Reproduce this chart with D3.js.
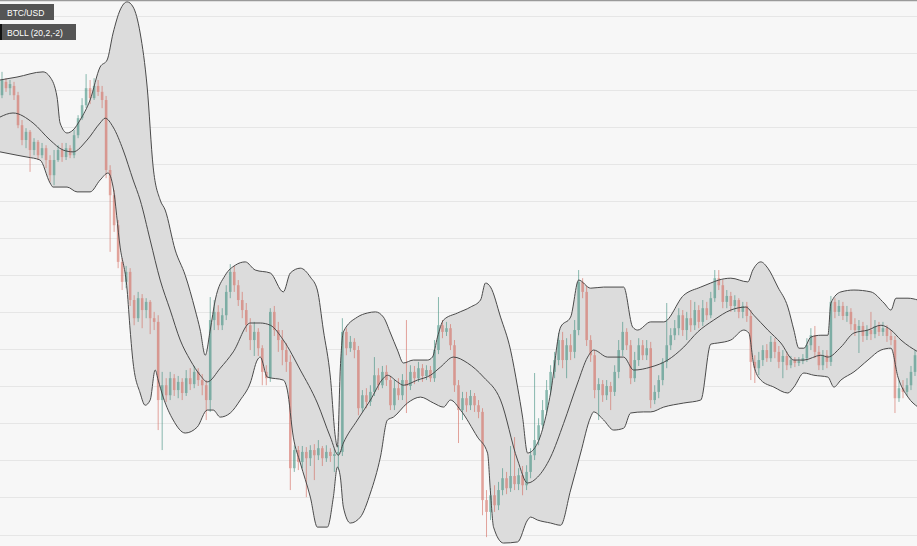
<!DOCTYPE html>
<html>
<head>
<meta charset="utf-8">
<script src="https://cdn.jsdelivr.net/npm/d3@7/dist/d3.min.js"></script>
<style>
  html, body { margin: 0; padding: 0; background: #f7f7f7; }
  svg { display: block; }
</style>
</head>
<body>
<svg id="chart" width="917" height="546"></svg>
<script>
// BTC/USD candles, one per slot, left to right
var opens = [
  7186,7222,7205,7211,7186,7105,7065,7087,7038,7060,
  7024,7043,7011,6970,7011,7038,7019,7043,7024,7078,
  7124,7159,7205,7178,7211,7195,7173,6984,6916,6835,
  6736,6682,6709,6633,6584,6638,6606,6628,6584,6574,
  6363,6403,6376,6422,6390,6412,6382,6422,6406,6439,
  6417,6403,6363,6579,6601,6565,6592,6655,6709,6673,
  6633,6606,6565,6525,6547,6503,6439,6422,6601,6552,
  6525,6498,6466,6179,6228,6196,6223,6206,6228,6214,
  6233,6206,6223,6212,6217,6223,6547,6503,6520,6498,
  6341,6376,6358,6385,6430,6403,6439,6417,6349,6395,
  6376,6417,6401,6439,6422,6449,6428,6444,6422,6498,
  6565,6547,6557,6511,6403,6336,6368,6349,6374,6349,
  6331,6093,6061,6106,6079,6120,6152,6125,6158,6136,
  6160,6133,6169,6214,6255,6295,6336,6390,6439,6471,
  6525,6471,6511,6493,6552,6682,6655,6525,6484,6390,
  6406,6376,6401,6385,6439,6498,6547,6511,6422,6471,
  6511,6484,6503,6363,6385,6417,6466,6511,6538,6557,
  6592,6552,6584,6565,6606,6574,6611,6592,6638,6692,
  6673,6628,6644,6617,6633,6601,6617,6590,6466,6449,
  6471,6498,6476,6520,6493,6466,6482,6457,6471,6463,
  6468,6476,6511,6538,6493,6457,6484,6466,6628,6601,
  6617,6590,6601,6568,6552,6563,6536,6552,6541,6563,
  6547,6557,6536,6525,6368,6395,6385,6403,6439
];
var highs = [
  7249,7232,7227,7222,7195,7119,7097,7092,7070,7065,
  7057,7051,7024,7038,7051,7057,7057,7051,7092,7132,
  7178,7243,7227,7232,7227,7211,7184,6997,6930,6849,
  6746,6725,6719,6646,6655,6649,6638,6633,6601,6592,
  6439,6422,6439,6433,6428,6422,6444,6449,6455,6449,
  6433,6417,6641,6633,6619,6611,6673,6730,6725,6687,
  6655,6625,6584,6574,6557,6511,6457,6611,6617,6574,
  6552,6517,6484,6241,6239,6239,6236,6241,6244,6255,
  6239,6241,6233,6233,6241,6584,6557,6536,6530,6509,
  6390,6395,6403,6479,6449,6455,6457,6428,6417,6422,
  6433,6579,6457,6455,6466,6460,6457,6455,6525,6641,
  6579,6574,6568,6525,6417,6385,6385,6390,6382,6363,
  6341,6120,6125,6133,6142,6179,6169,6239,6263,6179,
  6185,6187,6233,6436,6314,6363,6417,6457,6493,6544,
  6547,6530,6541,6579,6714,6692,6671,6538,6498,6422,
  6417,6417,6412,6457,6525,6574,6557,6525,6493,6530,
  6525,6525,6520,6403,6430,6476,6625,6557,6579,6611,
  6606,6601,6633,6628,6619,6633,6628,6655,6714,6714,
  6687,6660,6655,6646,6638,6628,6628,6606,6484,6493,
  6511,6514,6536,6530,6509,6498,6493,6482,6479,6479,
  6487,6530,6557,6563,6509,6498,6498,6644,6638,6633,
  6628,6617,6611,6584,6579,6574,6565,6601,6579,6574,
  6574,6565,6552,6536,6417,6417,6422,6455,6498
];
var lows = [
  7178,7195,7186,7173,7097,7051,7043,6979,7024,7011,
  7016,6989,6952,6943,7006,7006,7011,7016,7016,7070,
  7119,7151,7162,7173,7184,7151,6962,6763,6817,6719,
  6660,6665,6617,6565,6574,6557,6584,6541,6552,6282,
  6228,6358,6363,6374,6368,6363,6374,6390,6395,6401,
  6376,6309,6331,6552,6552,6552,6579,6638,6655,6617,
  6584,6547,6498,6482,6482,6403,6403,6412,6536,6493,
  6457,6439,6120,6169,6174,6179,6101,6185,6147,6201,
  6185,6196,6196,6169,6174,6212,6484,6493,6476,6322,
  6331,6341,6347,6374,6390,6395,6401,6336,6336,6363,
  6363,6328,6390,6406,6412,6412,6417,6412,6412,6487,
  6530,6536,6498,6385,6247,6309,6331,6336,6331,6314,
  6052,5993,6039,6061,6066,6106,6109,6115,6120,6120,
  6106,6120,6152,6201,6241,6282,6322,6376,6422,6457,
  6449,6422,6471,6476,6538,6638,6509,6466,6368,6309,
  6358,6363,6336,6374,6422,6482,6498,6406,6412,6455,
  6471,6471,6341,6352,6368,6403,6449,6498,6525,6538,
  6536,6525,6547,6552,6557,6563,6579,6584,6628,6660,
  6611,6611,6601,6601,6584,6584,6574,6417,6409,6430,
  6455,6466,6466,6476,6449,6422,6444,6449,6452,6455,
  6460,6466,6498,6476,6444,6444,6449,6455,6584,6590,
  6579,6574,6552,6536,6490,6520,6525,6525,6530,6536,
  6536,6520,6511,6328,6358,6368,6374,6390,6428
];
var closes = [
  7227,7205,7216,7186,7105,7065,7087,7038,7060,7024,
  7043,7011,6970,7011,7038,7019,7043,7024,7078,7124,
  7159,7205,7178,7211,7195,7173,6984,6916,6835,6736,
  6682,6709,6633,6584,6638,6606,6628,6584,6574,6363,
  6403,6376,6422,6390,6412,6382,6422,6406,6439,6417,
  6403,6363,6579,6601,6565,6592,6655,6709,6673,6633,
  6606,6565,6525,6547,6503,6439,6422,6601,6552,6525,
  6498,6466,6179,6228,6196,6223,6206,6228,6214,6233,
  6206,6223,6212,6217,6223,6547,6503,6520,6498,6341,
  6376,6358,6385,6430,6403,6439,6417,6349,6395,6376,
  6417,6401,6439,6422,6449,6428,6444,6422,6498,6565,
  6547,6557,6511,6403,6336,6368,6349,6374,6349,6331,
  6093,6061,6106,6079,6120,6152,6125,6158,6136,6160,
  6133,6169,6214,6255,6295,6336,6390,6439,6471,6525,
  6471,6511,6493,6552,6682,6655,6525,6484,6390,6406,
  6376,6401,6385,6439,6498,6547,6511,6422,6471,6511,
  6484,6503,6363,6385,6417,6466,6511,6538,6557,6592,
  6552,6584,6565,6606,6574,6611,6592,6638,6692,6673,
  6628,6644,6617,6633,6601,6617,6590,6466,6449,6471,
  6498,6476,6520,6493,6466,6482,6457,6471,6463,6468,
  6476,6511,6538,6493,6457,6484,6466,6628,6601,6617,
  6590,6601,6568,6552,6563,6536,6552,6541,6563,6547,
  6557,6536,6525,6368,6395,6385,6403,6439,6484
];

// BOLL (20,2,-2): [candle slot, price]
var upperBand = [
  [-0.5,7227],[3.75,7235],[10.25,7249],[12,7235],[13.75,7181],[14.5,7111],[16.25,7084],
  [17.75,7092],[19.5,7119],[22,7173],[24.5,7262],[26.25,7281],[27.75,7354],[29.5,7416],
  [31.25,7438],[32.75,7424],[34.5,7354],[36.25,7208],[37.75,6992],[39.5,6903],[40.75,6876],
  [43.25,6768],[45.75,6700],[48.25,6606],[49.5,6552],[50.75,6484],[52,6552],[53.25,6633],
  [55.75,6700],[58.25,6727],[60.75,6736],[63.25,6714],[67,6706],[70.25,6655],[72,6706],
  [74.5,6719],[77,6695],[78.75,6660],[80.25,6552],[82,6425],[83.25,6263],[83.75,6236],
  [84.5,6452],[85.25,6547],[88.75,6587],[91.25,6598],[93.25,6601],[95.25,6587],[97,6544],
  [98.75,6498],[100.25,6463],[102.75,6471],[106.25,6471],[107.5,6479],[108.75,6533],
  [110.25,6579],[113.75,6598],[117,6614],[119.5,6633],[120.75,6679],[122,6668],[124.5,6587],
  [127,6498],[128.75,6398],[130,6317],[131.25,6220],[133.75,6247],[137,6382],[139.5,6560],
  [142,6587],[144,6687],[147,6665],[150.25,6668],[155.25,6668],[157.5,6560],[158.75,6552],
  [162,6574],[165.25,6574],[170.25,6646],[174.5,6668],[177,6679],[179,6687],[182,6692],
  [186.25,6682],[187.5,6714],[189.5,6736],[191.25,6719],[193.75,6668],[196.25,6614],
  [197.75,6552],[199,6503],[200.25,6503],[202,6533],[204.5,6538],[206.25,6538],[207,6625],
  [209.5,6655],[212.75,6660],[217,6655],[220.25,6625],[222,6606],[223.25,6638],[226.25,6638],
  [228.75,6633]
];
var middleBand = [
  [-0.5,7127],[2.75,7138],[7.75,7111],[12,7065],[15.25,7038],[17.75,7033],[21.25,7065],
  [24.5,7111],[25.75,7124],[27.75,7100],[30.25,7038],[32.75,6957],[34.5,6903],[37,6795],
  [39.5,6687],[42,6606],[44.5,6525],[47,6471],[49.5,6430],[51.25,6412],[54.5,6449],
  [57.75,6493],[62,6571],[64.5,6571],[67,6565],[70.25,6525],[74.5,6444],[78.75,6355],
  [82,6263],[84,6214],[85.25,6247],[88.75,6309],[92,6363],[95.25,6422],[96.25,6430],
  [98.75,6412],[100.25,6403],[103.75,6417],[107,6430],[109.5,6452],[112.75,6479],
  [116.25,6463],[120.25,6425],[124.5,6363],[128.75,6201],[131.25,6139],[133.75,6155],
  [137,6209],[140.25,6300],[143.75,6409],[146.25,6479],[147.75,6498],[151.25,6479],
  [155.25,6479],[157.75,6444],[162,6452],[166.25,6471],[170.25,6506],[173.75,6547],
  [177.75,6579],[182,6606],[185.75,6614],[187.75,6592],[191.25,6552],[194.5,6517],
  [197.75,6471],[200.25,6471],[204.5,6484],[206.25,6479],[209.5,6506],[212.75,6544],
  [216.25,6552],[219.5,6565],[222,6552],[224.5,6525],[228.75,6493]
];
var lowerBand = [
  [-0.5,7033],[3.75,7024],[6.25,7019],[9.5,7011],[12,6949],[12.75,6938],[16.25,6938],
  [18.75,6925],[22,6925],[24.5,6957],[26.5,6976],[27.75,6938],[29.5,6776],[31.25,6660],
  [32,6552],[32.75,6463],[34.5,6382],[35.75,6349],[37,6363],[38.25,6444],[39,6417],
  [40.25,6371],[42.75,6309],[45.75,6274],[48.75,6290],[51.25,6336],[52.75,6336],[54.5,6317],
  [57,6328],[59.5,6363],[62,6409],[63.75,6471],[64.5,6479],[66.25,6425],[70.25,6417],
  [71.25,6390],[72.75,6263],[74.5,6193],[77,6101],[78.75,6020],[81.25,6020],[82.75,6101],
  [83.75,6182],[84.5,6155],[85.25,6074],[87,6031],[89.5,6047],[92,6112],[94.5,6209],
  [96.25,6309],[97.75,6317],[101.25,6355],[104.5,6371],[107.75,6355],[110.25,6344],
  [112,6363],[114.5,6336],[118.75,6263],[121.25,6220],[122,6112],[122.75,6020],[125.25,5977],
  [128.75,5980],[131.25,6039],[132,6047],[133.75,6039],[137,6031],[139.5,6025],[142,6120],
  [144.5,6220],[147,6317],[147.75,6331],[150.25,6309],[152.75,6282],[155.25,6287],[157,6328],
  [160.25,6331],[162,6331],[165.25,6344],[170.25,6355],[174.5,6363],[177,6514],[178.75,6517],
  [182,6525],[185.25,6552],[186.5,6544],[187.75,6457],[189.5,6417],[192.75,6398],
  [196.25,6382],[197.75,6398],[200.25,6436],[202.75,6430],[206.25,6425],[207.75,6398],
  [209.5,6417],[212.75,6439],[216.25,6471],[219.5,6498],[222,6503],[223.75,6425],
  [226.25,6371],[228.75,6344]
];

var legendLabels = ['BTC/USD', 'BOLL (20,2,-2)'];
var priceExtent = [5969, 7443];

var width = 917, height = 546;
var svg = d3.select('#chart');

var candles = opens.map(function(o, i) {
  return {i: i, open: o, high: highs[i], low: lows[i], close: closes[i]};
});

var x = d3.scaleLinear().domain([-0.5, candles.length - 0.5]).range([0, width]);
var y = d3.scaleLinear().domain(priceExtent).range([height, 0]);
var step = x(1) - x(0);

svg.append('rect')
  .attr('width', width).attr('height', height)
  .attr('fill', '#f7f7f7');

// horizontal grid
svg.append('g').selectAll('line')
  .data(y.ticks(15))
  .enter().append('line')
    .attr('x1', 0).attr('x2', width)
    .attr('y1', d => Math.round(y(d)) + 0.5)
    .attr('y2', d => Math.round(y(d)) + 0.5)
    .attr('stroke', '#e6e6e6')
    .attr('stroke-width', 1);

// band fill: below the upper line and above the lower line
var curve = d3.curveMonotoneX;
var defs = svg.append('defs');
defs.append('clipPath').attr('id', 'belowUpper')
  .append('path')
    .attr('d', d3.area().curve(curve)
      .x(d => x(d[0])).y0(height).y1(d => y(d[1]))(upperBand));

svg.append('path')
  .attr('clip-path', 'url(#belowUpper)')
  .attr('d', d3.area().curve(curve)
    .x(d => x(d[0])).y0(0).y1(d => y(d[1]))(lowerBand))
  .attr('fill', '#dcdcdc');

// candles
var candle = svg.append('g').attr('opacity', 0.6)
  .selectAll('g').data(candles)
  .enter().append('g')
    .attr('stroke', d => d.close >= d.open ? '#3f8f7f' : '#d46a5e')
    .attr('fill', d => d.close >= d.open ? '#3f8f7f' : '#d46a5e');

candle.append('line')
  .attr('x1', d => x(d.i)).attr('x2', d => x(d.i))
  .attr('y1', d => y(d.high)).attr('y2', d => y(d.low))
  .attr('stroke-width', 1);

candle.append('rect')
  .attr('x', d => x(d.i) - step * 0.32)
  .attr('width', step * 0.64)
  .attr('y', d => y(Math.max(d.open, d.close)))
  .attr('height', d => Math.max(1, Math.abs(y(d.open) - y(d.close))))
  .attr('stroke', 'none');

// band lines
var bandLine = d3.line().curve(curve).x(d => x(d[0])).y(d => y(d[1]));
[upperBand, middleBand, lowerBand].forEach(function(band) {
  svg.append('path')
    .attr('d', bandLine(band))
    .attr('fill', 'none')
    .attr('stroke', '#4a4a4a')
    .attr('stroke-width', 1);
});

// top border
svg.append('line')
  .attr('x1', 0).attr('x2', width).attr('y1', 0.5).attr('y2', 0.5)
  .attr('stroke', '#9a9a9a').attr('stroke-width', 1.5);

// legend boxes
var legend = svg.append('g').selectAll('g')
  .data(legendLabels)
  .enter().append('g')
    .attr('transform', (d, i) => 'translate(0,' + (4 + i * 20) + ')');

legend.append('rect')
  .attr('width', (d, i) => i === 0 ? 54 : 76)
  .attr('height', 16)
  .attr('fill', '#555555');

legend.filter((d, i) => i === 1).append('rect')
  .attr('width', 2).attr('height', 16).attr('fill', '#111');

legend.append('text')
  .attr('x', 7).attr('y', 11.5)
  .attr('fill', '#ffffff')
  .attr('font-family', 'Liberation Sans, Arial, sans-serif')
  .attr('font-size', 8.5)
  .text(d => d);
</script>
</body>
</html>
